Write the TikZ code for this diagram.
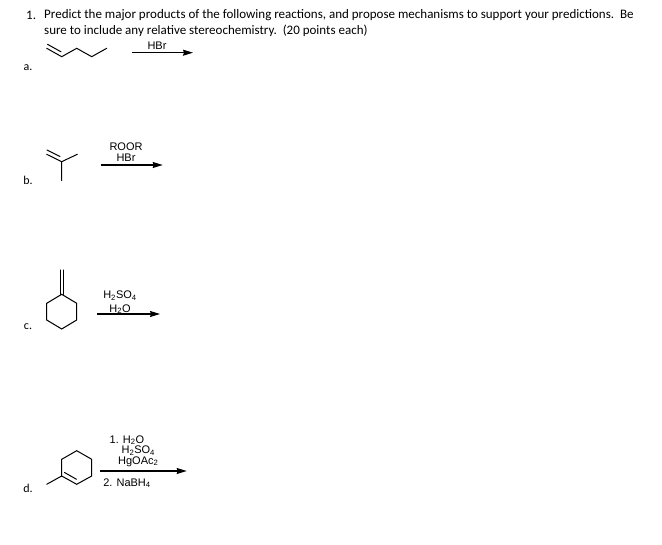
\documentclass[tikz,border=0pt]{standalone}
\usepackage{fontspec}
\setmainfont{Carlito}
\newfontfamily\arialf{Liberation Sans}
\usetikzlibrary{arrows.meta}
\tikzset{bond/.style={line width=1pt,line cap=round},
 rxn/.style={line width=1.2pt,-{Stealth[length=10pt,width=6pt,inset=1pt]}},
 reag/.style={font=\arialf\fontsize{11}{12}\selectfont,inner sep=0pt},
 hdr/.style={font=\fontsize{13}{14}\selectfont,inner sep=0pt,anchor=west},
 lbl/.style={font=\fontsize{12}{13}\selectfont,inner sep=0pt}}
\begin{document}
\begin{tikzpicture}[x=1pt,y=-1pt]
\useasboundingbox (0,0) rectangle (662,545);
\node[hdr] (h1a) at (26,15) {1.};
\node[hdr] (h1) at (44,15) {Predict the major products of the following reactions, and propose mechanisms to support your predictions.\ \ Be};
\node[hdr] (h2) at (44,31) {sure to include any relative stereochemistry.\ \ (20 points each)};
\node[lbl] (la) at (28,68) {a.};
\node[lbl] (lb) at (28,180) {b.};
\node[lbl] (lc) at (28,327) {c.};
\node[lbl] (ld) at (28,488) {d.};
% a
\draw[bond] (46.7,48.3) -- (61.7,56.7) -- (76.7,48.3) -- (91.7,56.7) -- (106.7,48.3);
\draw[bond] (47.5,44.3) -- (61,51.8);
\coordinate (a1) at (131.7,52.7); \coordinate (a2) at (193,52.7);
\draw[rxn] (a1) -- (a2);
\node[reag] (ra) at (157,46) {HBr};
% b
\draw[bond] (61.7,180.7) -- (61.7,161.7) -- (77.3,154.3);
\draw[bond] (61.7,161.7) -- (46.7,154.3);
\draw[bond] (47,150) -- (60,156.5);
\coordinate (b1) at (101,165); \coordinate (b2) at (162.7,165);
\draw[rxn] (b1) -- (b2);
\node[reag] (rb1) at (126,146.7) {ROOR};
\node[reag] (rb2) at (126,158) {HBr};
% c
\draw[bond] (61.7,294.3) -- (46.7,303.3) -- (46.7,320) -- (61.7,329) -- (76.7,320) -- (76.7,303.3) -- cycle;
\draw[bond] (60.4,294.3) -- (60.4,270);
\draw[bond] (63,294.3) -- (63,270);
\coordinate (c1) at (97.3,314); \coordinate (c2) at (160,314);
\draw[rxn] (c1) -- (c2);
\node[reag] (rc1) at (120,295.7) {H\textsubscript{2}SO\textsubscript{4}};
\node[reag] (rc2) at (120,309) {H\textsubscript{2}O};
% d
\draw[bond] (61.7,459.3) -- (61.7,476) -- (76.7,484.3) -- (91.7,476) -- (91.7,459.3) -- (76.7,450.7) -- cycle;
\draw[bond] (61.7,476) -- (46.7,484.3);
\draw[bond] (64.5,472.5) -- (76.5,479.3);
\coordinate (d1) at (100,471); \coordinate (d2) at (186.7,471);
\draw[rxn] (d1) -- (d2);
\node[reag] (rd1) at (127,440) {1. H\textsubscript{2}O};
\node[reag] (rd2) at (138.3,450.7) {H\textsubscript{2}SO\textsubscript{4}};
\node[reag] (rd3) at (138.3,461.5) {HgOAc\textsubscript{2}};
\node[reag] (rd4) at (127,483.3) {2. NaBH\textsubscript{4}};
\end{tikzpicture}
\end{document}
